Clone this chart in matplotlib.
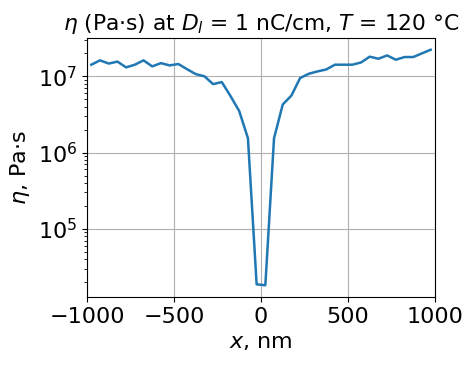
import matplotlib
matplotlib.use('Agg')
import matplotlib.pyplot as plt

# positions (nm) and viscosity (Pa*s)
x_nm = [-975, -925, -875, -825, -775, -725, -675, -625, -575, -525,
        -475, -425, -375, -325, -275, -225, -175, -125, -75, -25,
        25, 75, 125, 175, 225, 275, 325, 375, 425, 475,
        525, 575, 625, 675, 725, 775, 825, 875, 925, 975]
eta = [1.42e7, 1.62e7, 1.47e7, 1.56e7, 1.31e7, 1.42e7, 1.62e7, 1.35e7, 1.49e7, 1.39e7,
       1.45e7, 1.24e7, 1.07e7, 1.0e7, 7.9e6, 8.4e6, 5.5e6, 3.5e6, 1.54e6, 1.87e4,
       1.82e4, 1.54e6, 4.27e6, 5.6e6, 9.5e6, 1.08e7, 1.16e7, 1.23e7, 1.42e7, 1.42e7,
       1.42e7, 1.52e7, 1.81e7, 1.70e7, 1.88e7, 1.65e7, 1.79e7, 1.79e7, 2.0e7, 2.23e7]

plt.rcParams['font.size'] = 16

fig = plt.figure(figsize=(4.74, 3.67), dpi=100)
ax = fig.add_axes([0.1835, 0.1907, 0.7342, 0.7058])

ax.plot(x_nm, eta, color='#1f77b4', linewidth=1.8)
ax.set_yscale('log')
ax.set_xlim(-1000, 1000)
ax.grid(True)
ax.set_title(r'$\eta$ (Pa·s) at $D_l$ = 1 nC/cm, $T$ = 120 °C', fontsize=15.7)
ax.set_xlabel(r'$x$, nm')
ax.set_ylabel(r'$\eta$, Pa·s')

fig.savefig('out.png', dpi=100)
